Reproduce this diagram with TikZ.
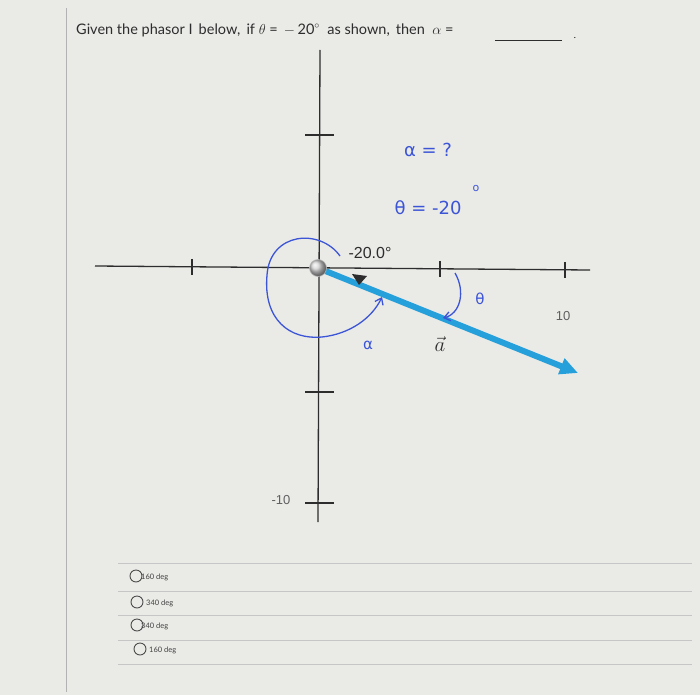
\documentclass[tikz,border=0pt]{standalone}
\usepackage{fontspec}
\setmainfont{Lato}
\newfontfamily\arialf{Liberation Sans}
\newfontfamily\hand{DejaVu Sans}
\usetikzlibrary{arrows.meta}
\definecolor{phasor}{RGB}{38,160,218}
\definecolor{pen}{RGB}{60,85,215}
\definecolor{bg}{RGB}{234,234,231}
\definecolor{ink}{RGB}{45,45,45}
\tikzset{
  axis/.style={draw=ink, line width=1.3pt},
  tick/.style={draw=ink, line width=1.1pt},
  num/.style={text=gray!75!black, font=\arialf\fontsize{13}{15}\selectfont, inner sep=0pt},
  penline/.style={draw=pen, line width=1.3pt, -{Straight Barb[length=6pt,width=9pt]}},
  pentext/.style={text=pen, font=\hand\fontsize{18}{20}\selectfont, inner sep=0pt},
  optcirc/.style={draw=gray!60!black, line width=0.9pt, circle, minimum size=12pt, inner sep=0pt},
  opttext/.style={text=gray!50!black, font=\fontsize{7.5}{9}\selectfont, inner sep=0pt, anchor=west},
  sep/.style={draw=gray!45, line width=0.6pt}
}
\begin{document}
\begin{tikzpicture}[x=1pt,y=-1pt]
\useasboundingbox (0,0) rectangle (700,695);
\fill[bg] (0,0) rectangle (700,695);
\draw[gray!60, line width=0.8pt] (66,8) -- (66,692);
% title
\node[anchor=west, inner sep=0pt, text=ink, font=\fontsize{14.5}{16}\selectfont] (title) at (76,30)
  {Given the phasor I\, below,\, if $\theta$ = \,$-$\,20$^\circ$ \ as shown,\, then \ $\alpha$ =};
\coordinate (b1) at (495,40); \coordinate (b2) at (562,40);
\draw[ink, line width=0.6pt] (b1) -- (b2);
\node[inner sep=0pt, font=\small] (dot) at (575,38) {.};
% axes
\coordinate (O) at (318,268);
\coordinate (xl) at (95,266); \coordinate (xr) at (590,270);
\coordinate (yt) at (320,50); \coordinate (yb) at (318,522);
\draw[axis] (xl) -- (xr);
\draw[axis] (yt) -- (yb);
% x ticks
\foreach \x/\y in {192/266.8, 440/268.8, 565/269.8}{
  \draw[tick] (\x,\y-8) -- (\x,\y+8);
}
% y ticks
\foreach \y in {135, 392, 503}{
  \draw[tick] (305,\y) -- (334,\y);
}
\node[num] (ten) at (563,316) {10};
\node[num] (mten) at (281,500) {-10};
% phasor
\coordinate (tip) at (578,373);
\draw[phasor, line width=6pt, -{Triangle[length=18pt,width=16pt]}] (O) -- (tip);
\shade[ball color=gray!35] (O) circle (8.5pt);
\draw[gray!55, line width=0.6pt] (O) circle (8.5pt);
% -20.0 label
\node[text=ink, font=\arialf\fontsize{16}{18}\selectfont, inner sep=0pt] (ang) at (370,253) {-20.0°};
\fill[ink] (352,274) -- (367,276) -- (359,285) -- cycle;
\node[text=ink, font=\fontsize{20}{22}\selectfont, inner sep=0pt] (avec) at (440,344) {$\vec{a}$};
% handwriting
\node[pentext] (h1) at (428,150) {α = ?};
\node[pentext] (h2) at (428,208) {θ = -20};
\node[pentext, font=\hand\fontsize{11}{12}\selectfont] (h2d) at (476,188) {o};
\coordinate (ls) at (340,256);
\coordinate (le) at (382,297);
\draw[penline] (ls) .. controls (320,228) and (270,232) .. (267,275)
  .. controls (263,320) and (290,340) .. (322,337)
  .. controls (350,334) and (372,318) .. (le);
\coordinate (ts) at (455,273);
\coordinate (te) at (443,318);
\draw[penline] (ts) .. controls (466,292) and (460,314) .. (te);
\node[pentext, font=\hand\fontsize{15}{17}\selectfont] (th) at (480,299) {θ};
\node[pentext, font=\hand\fontsize{15}{17}\selectfont] (al) at (368,345) {α};
% options
\foreach \y in {563, 591, 615, 640, 664}{
  \draw[sep] (118,\y) -- (692,\y);
}
\node[optcirc] (c1) at (136,576) {};
\node[opttext] (o1) at (141,577) {160 deg};
\node[optcirc] (c2) at (137,602) {};
\node[opttext] (o2) at (146,603) {340 deg};
\node[optcirc] (c3) at (137,625) {};
\node[opttext] (o3) at (141,626) {340 deg};
\node[optcirc] (c4) at (140,649) {};
\node[opttext] (o4) at (149,650) {160 deg};
\end{tikzpicture}
\end{document}
